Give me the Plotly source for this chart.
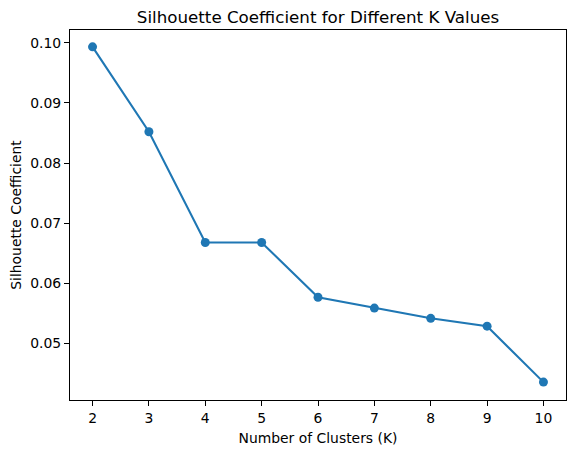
import plotly.graph_objects as go

k_values = [2, 3, 4, 5, 6, 7, 8, 9, 10]
silhouette = [0.0993, 0.0852, 0.0668, 0.0668, 0.0577, 0.0559, 0.0542, 0.0529, 0.0436]
y_ticks = [0.05, 0.06, 0.07, 0.08, 0.09, 0.10]

fig = go.Figure(go.Scatter(
    x=k_values, y=silhouette,
    mode="lines+markers",
    line=dict(color="#1f77b4", width=2.1),
    marker=dict(color="#1f77b4", size=9),
    showlegend=False,
))

axis_style = dict(
    showline=True, linecolor="black", linewidth=1.1, mirror=True,
    ticks="outside", ticklen=5, tickcolor="black", tickwidth=1.1,
    showgrid=False, zeroline=False, automargin=False,
    tickfont=dict(size=13.9, color="black"),
)

fig.update_layout(
    width=576, height=453,
    margin=dict(l=70, r=10, t=30, b=53),
    paper_bgcolor="white", plot_bgcolor="white",
    font=dict(family="DejaVu Sans", color="black"),
    title=dict(text="Silhouette Coefficient for Different K Values",
               x=(70 + 566) / 2 / 576, xanchor="center", y=1 - 17 / 453, yanchor="middle",
               font=dict(size=16.7)),
    xaxis=dict(range=[1.6, 10.4], tickvals=k_values,
               title=dict(text="Number of Clusters (K)", font=dict(size=13.9), standoff=8),
               **axis_style),
    yaxis=dict(range=[0.04063, 0.1021], tickvals=y_ticks, tickformat=".2f",
               title=dict(text="Silhouette Coefficient", font=dict(size=13.9), standoff=5),
               **axis_style),
)

# the page body has a default 8px margin; drop it so the figure sits at the corner
fig.write_html("out.html", config={"displayModeBar": False},
               post_script="document.body.style.margin='0';")
